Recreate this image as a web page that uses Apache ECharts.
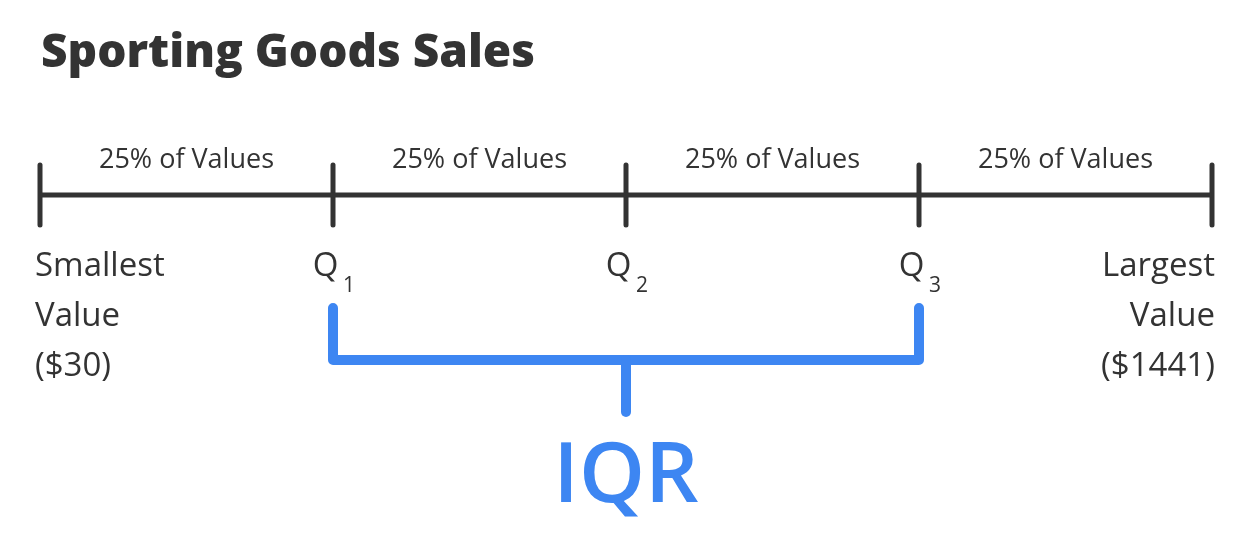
<!DOCTYPE html>
<html><head><meta charset="utf-8">
<script src="https://cdn.jsdelivr.net/npm/echarts@6/dist/echarts.min.js"></script>
<style>html,body{margin:0;background:#fff}#c{width:1250px;height:550px}</style>
</head><body><div id="c"></div>
<script>
const title = "Sporting Goods Sales";
const quartilePositions = [0, 1, 2, 3, 4];
const segmentLabels = ["25% of Values", "25% of Values", "25% of Values", "25% of Values"];
const smallestLabel = ["Smallest", "Value", "($30)"];
const largestLabel = ["Largest", "Value", "($1441)"];
const quartileNames = [["Q", "1", 1], ["Q", "2", 2], ["Q", "3", 3]];
const iqrLabel = "IQR";

const dark = "#333333", blue = "#3d86f2", font = "'Open Sans', Lato, sans-serif";
const chart = echarts.init(document.getElementById('c'));

const texts = [];
segmentLabels.forEach((t, i) => texts.push([i + 0.5, 160, t, 27, 500, 'center', dark]));
smallestLabel.forEach((t, i) => texts.push([-0.017, 267 + i * 50, t, 33, 500, 'left', dark]));
largestLabel.forEach((t, i) => texts.push([4.01, 267 + i * 50, t, 33, 500, 'right', dark]));
quartileNames.forEach(q => {
  texts.push([q[2] - 0.025, 267, q[0], 33, 500, 'center', dark]);
  texts.push([q[2] + 0.055, 286, q[1], 21, 500, 'center', dark]);
});
texts.push([2, 478, iqrLabel, 84, 600, 'center', blue]);

chart.setOption({
  animation: false,
  title: { text: title, left: 36, top: 26, textStyle: { fontSize: 46, fontWeight: 800, color: dark, fontFamily: font } },
  grid: { left: 40, right: 38, top: 0, bottom: 0 },
  xAxis: { type: 'value', min: 0, max: 4, show: false },
  yAxis: { type: 'value', min: 0, max: 550, inverse: true, show: false },
  series: [
    { type: 'line', data: [[0, 195], [4, 195]], symbol: 'none', lineStyle: { color: dark, width: 5 } },
    { type: 'custom', data: quartilePositions.map(x => [x]),
      renderItem: (p, api) => {
        const a = api.coord([api.value(0), 165]), b = api.coord([api.value(0), 225]);
        return { type: 'line', shape: { x1: a[0], y1: a[1], x2: b[0], y2: b[1] }, style: { stroke: dark, lineWidth: 5, lineCap: 'round' } };
      } },
    { type: 'custom', data: [[1, 3]],
      renderItem: (p, api) => {
        const c = (x, y) => api.coord([x, y]);
        const pts = [c(api.value(0), 308), c(api.value(0), 360), c(api.value(1), 360), c(api.value(1), 308)];
        const m1 = c((api.value(0) + api.value(1)) / 2, 360), m2 = c((api.value(0) + api.value(1)) / 2, 412);
        return { type: 'group', children: [
          { type: 'polyline', shape: { points: pts }, style: { stroke: blue, lineWidth: 10, fill: null, lineCap: 'round', lineJoin: 'round' } },
          { type: 'line', shape: { x1: m1[0], y1: m1[1], x2: m2[0], y2: m2[1] }, style: { stroke: blue, lineWidth: 10, lineCap: 'round' } }
        ] };
      } },
    { type: 'custom', data: texts,
      renderItem: (p, api) => {
        const d = texts[p.dataIndex];
        const pt = api.coord([d[0], d[1]]);
        return { type: 'text', x: pt[0], y: pt[1], style: { text: d[2], fontSize: d[3], fontWeight: d[4], align: d[5], verticalAlign: 'middle', fill: d[6], fontFamily: font } };
      } }
  ]
});
</script></body></html>
